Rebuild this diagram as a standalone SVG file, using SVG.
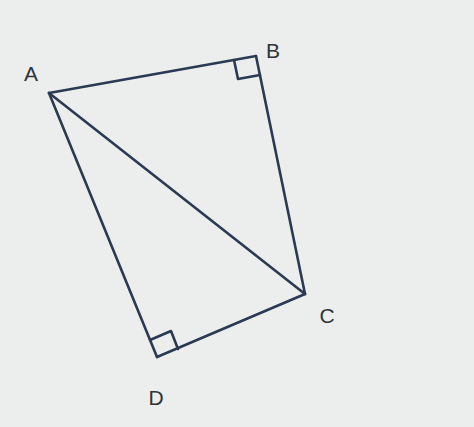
<svg xmlns="http://www.w3.org/2000/svg" width="474" height="427" viewBox="0 0 474 427">
<style>
.e{stroke:#2b3a52;stroke-width:2.6;fill:none;stroke-linecap:round;stroke-linejoin:round}
.l{font-family:"Liberation Sans",Arial,sans-serif;font-size:21px;fill:#2f3438}
</style>
<rect width="474" height="427" fill="#eceeed"/>
<g id="connectors">
<line class="e" x1="49" y1="93" x2="256" y2="56"/>
<line class="e" x1="256" y1="56" x2="305" y2="294"/>
<line class="e" x1="49" y1="93" x2="305" y2="294"/>
<line class="e" x1="49" y1="93" x2="157" y2="357"/>
<line class="e" x1="157" y1="357" x2="305" y2="294"/>
<polyline class="e" points="234,60 238,79 260,75"/>
<polyline class="e" points="150,340 171,331 178,349"/>
</g>
<g id="A"><text class="l" x="31" y="81" text-anchor="middle">A</text></g>
<g id="B"><text class="l" x="273" y="58" text-anchor="middle">B</text></g>
<g id="C"><text class="l" x="327" y="323" text-anchor="middle">C</text></g>
<g id="D"><text class="l" x="156" y="405" text-anchor="middle">D</text></g>
</svg>
